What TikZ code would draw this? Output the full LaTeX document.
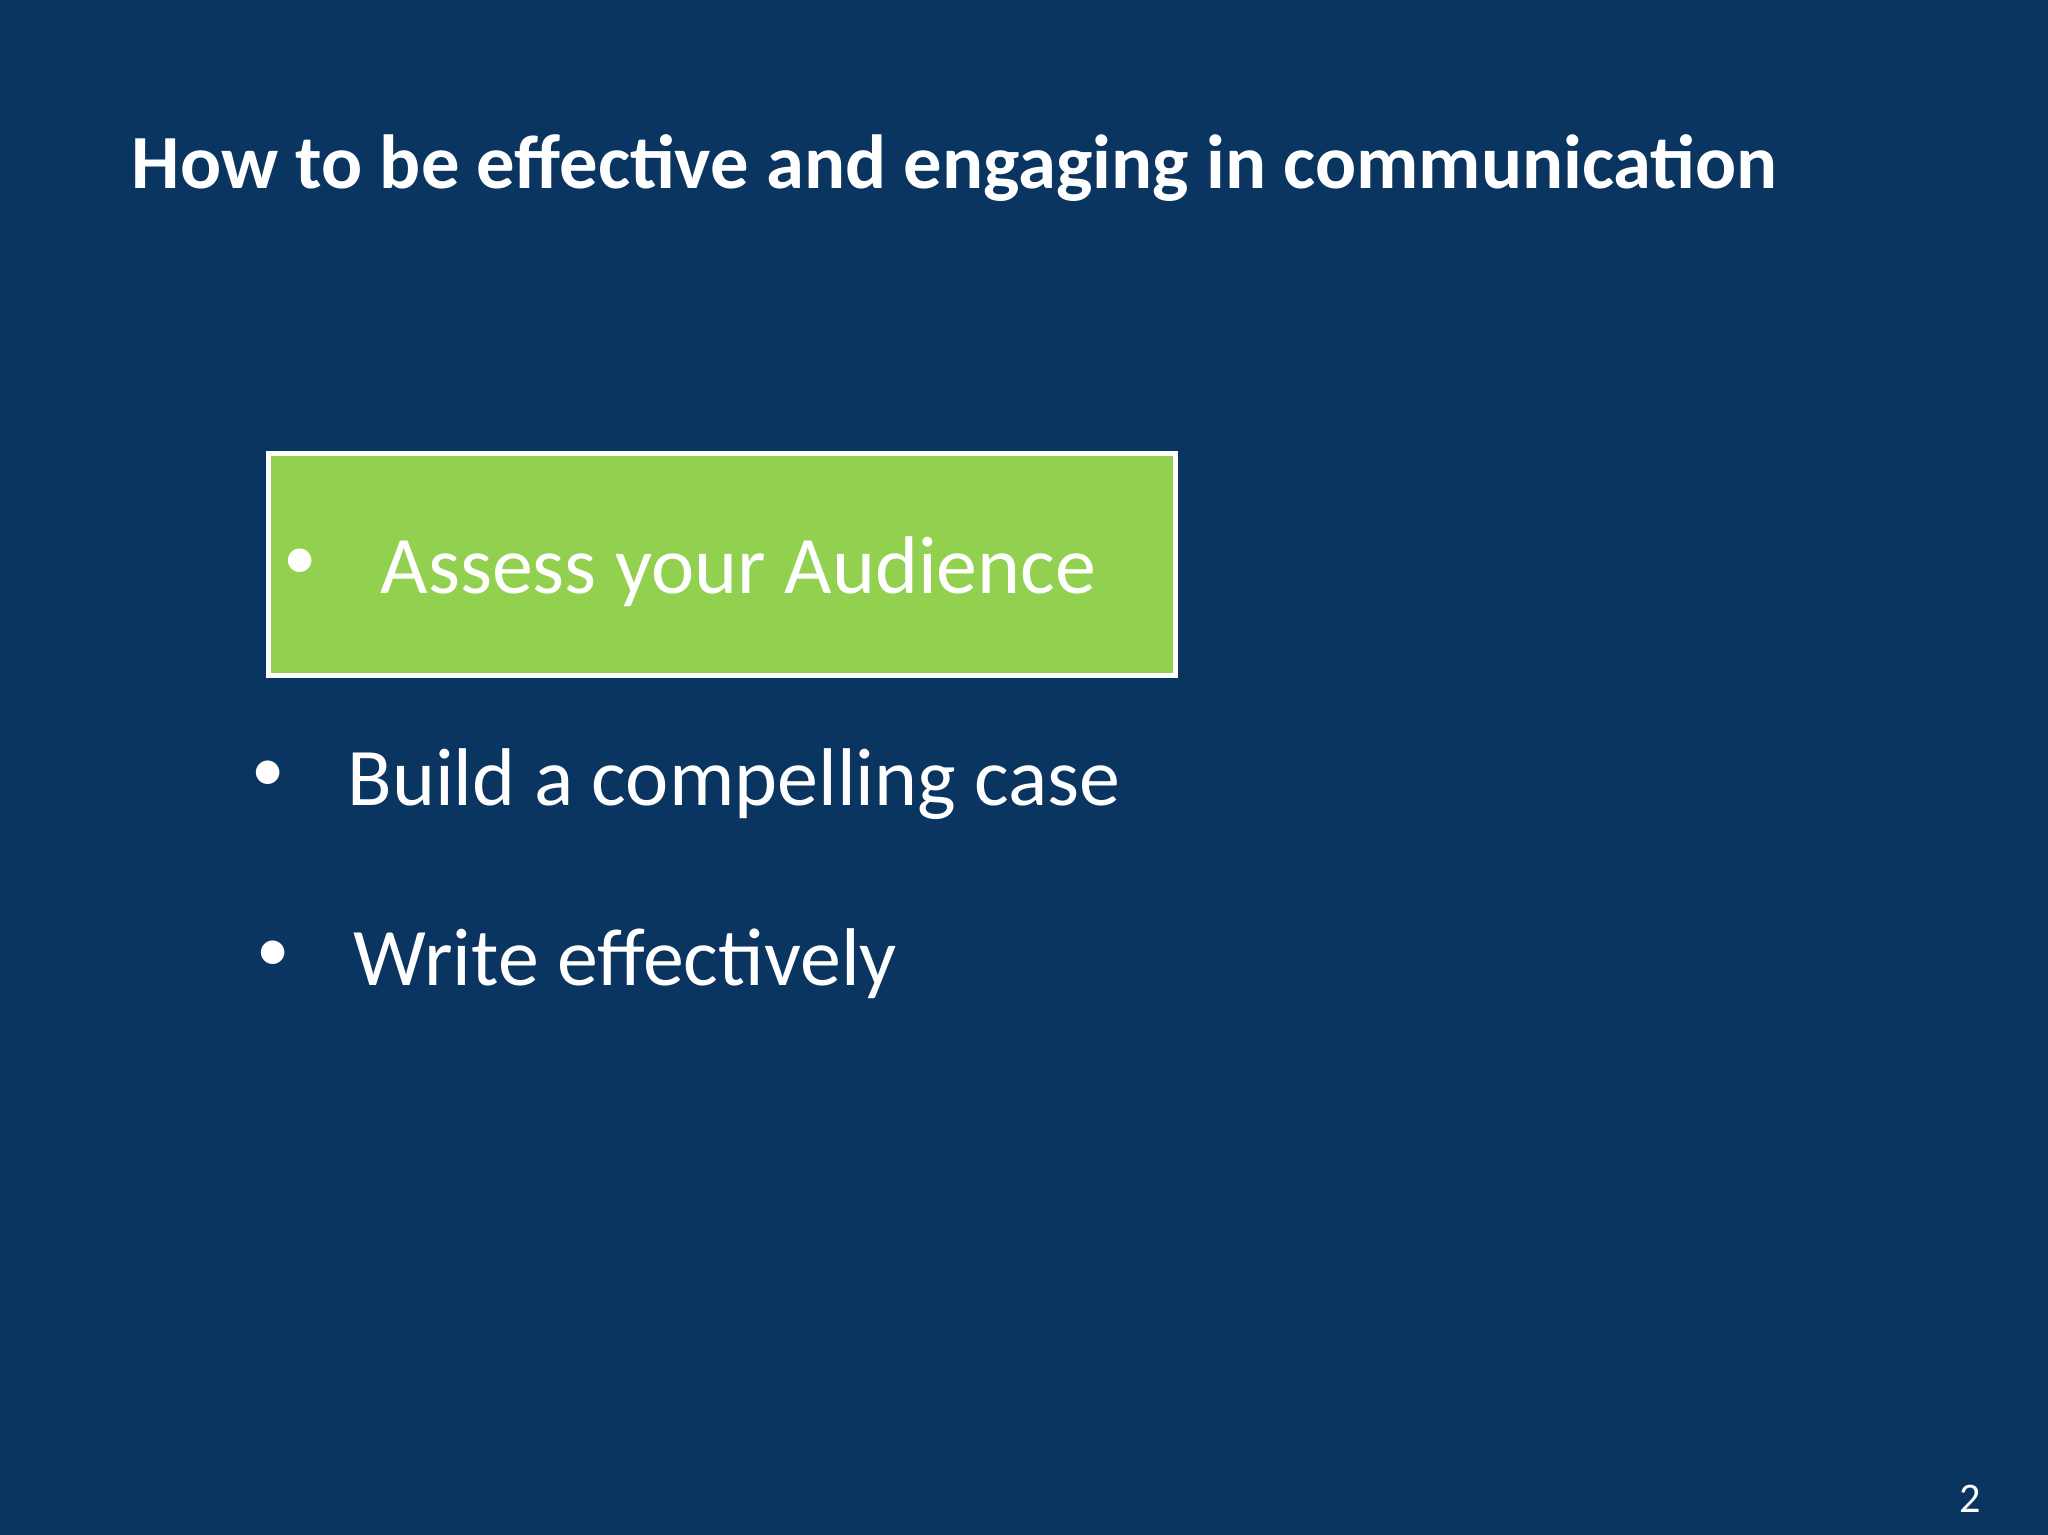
\documentclass[tikz,border=0pt]{standalone}
\usepackage{fontspec}
\setmainfont{Carlito}
\definecolor{bg}{HTML}{0A3560}
\definecolor{grn}{HTML}{92D050}
\begin{document}
\begin{tikzpicture}[x=1cm,y=1cm,
  txt/.style={anchor=base west,inner sep=0,text=white,font=\fontsize{23.3}{28}\selectfont},
  bul/.style={anchor=base,inner sep=0,text=white,font=\fontsize{19}{24}\selectfont}]
\fill[bg] (0,0) rectangle (20.48,15.35);
\useasboundingbox (0,0) rectangle (20.48,15.35);
\node[anchor=base west,inner sep=0,text=white,font=\bfseries\fontsize{21.8}{26}\selectfont] (title) at (1.31,13.46) {How to be effective and engaging in communication};
\node[draw=white,line width=1.5pt,fill=grn,minimum width=9.07cm,minimum height=2.22cm,anchor=south west,inner sep=0] (box) at (2.66,8.57) {};
\node[bul] (b1) at (3.00,9.55) {•};
\node[txt] (t1) at (3.80,9.41) {Assess your Audience};
\node[bul] (b2) at (2.68,7.43) {•};
\node[txt] (t2) at (3.47,7.29) {Build a compelling case};
\node[bul] (b3) at (2.73,5.63) {•};
\node[txt] (t3) at (3.53,5.49) {Write effectively};
\node[anchor=base,inner sep=0,text=white,font=\fontsize{12}{14}\selectfont] (pg) at (19.70,0.22) {2};
\end{tikzpicture}
\end{document}
